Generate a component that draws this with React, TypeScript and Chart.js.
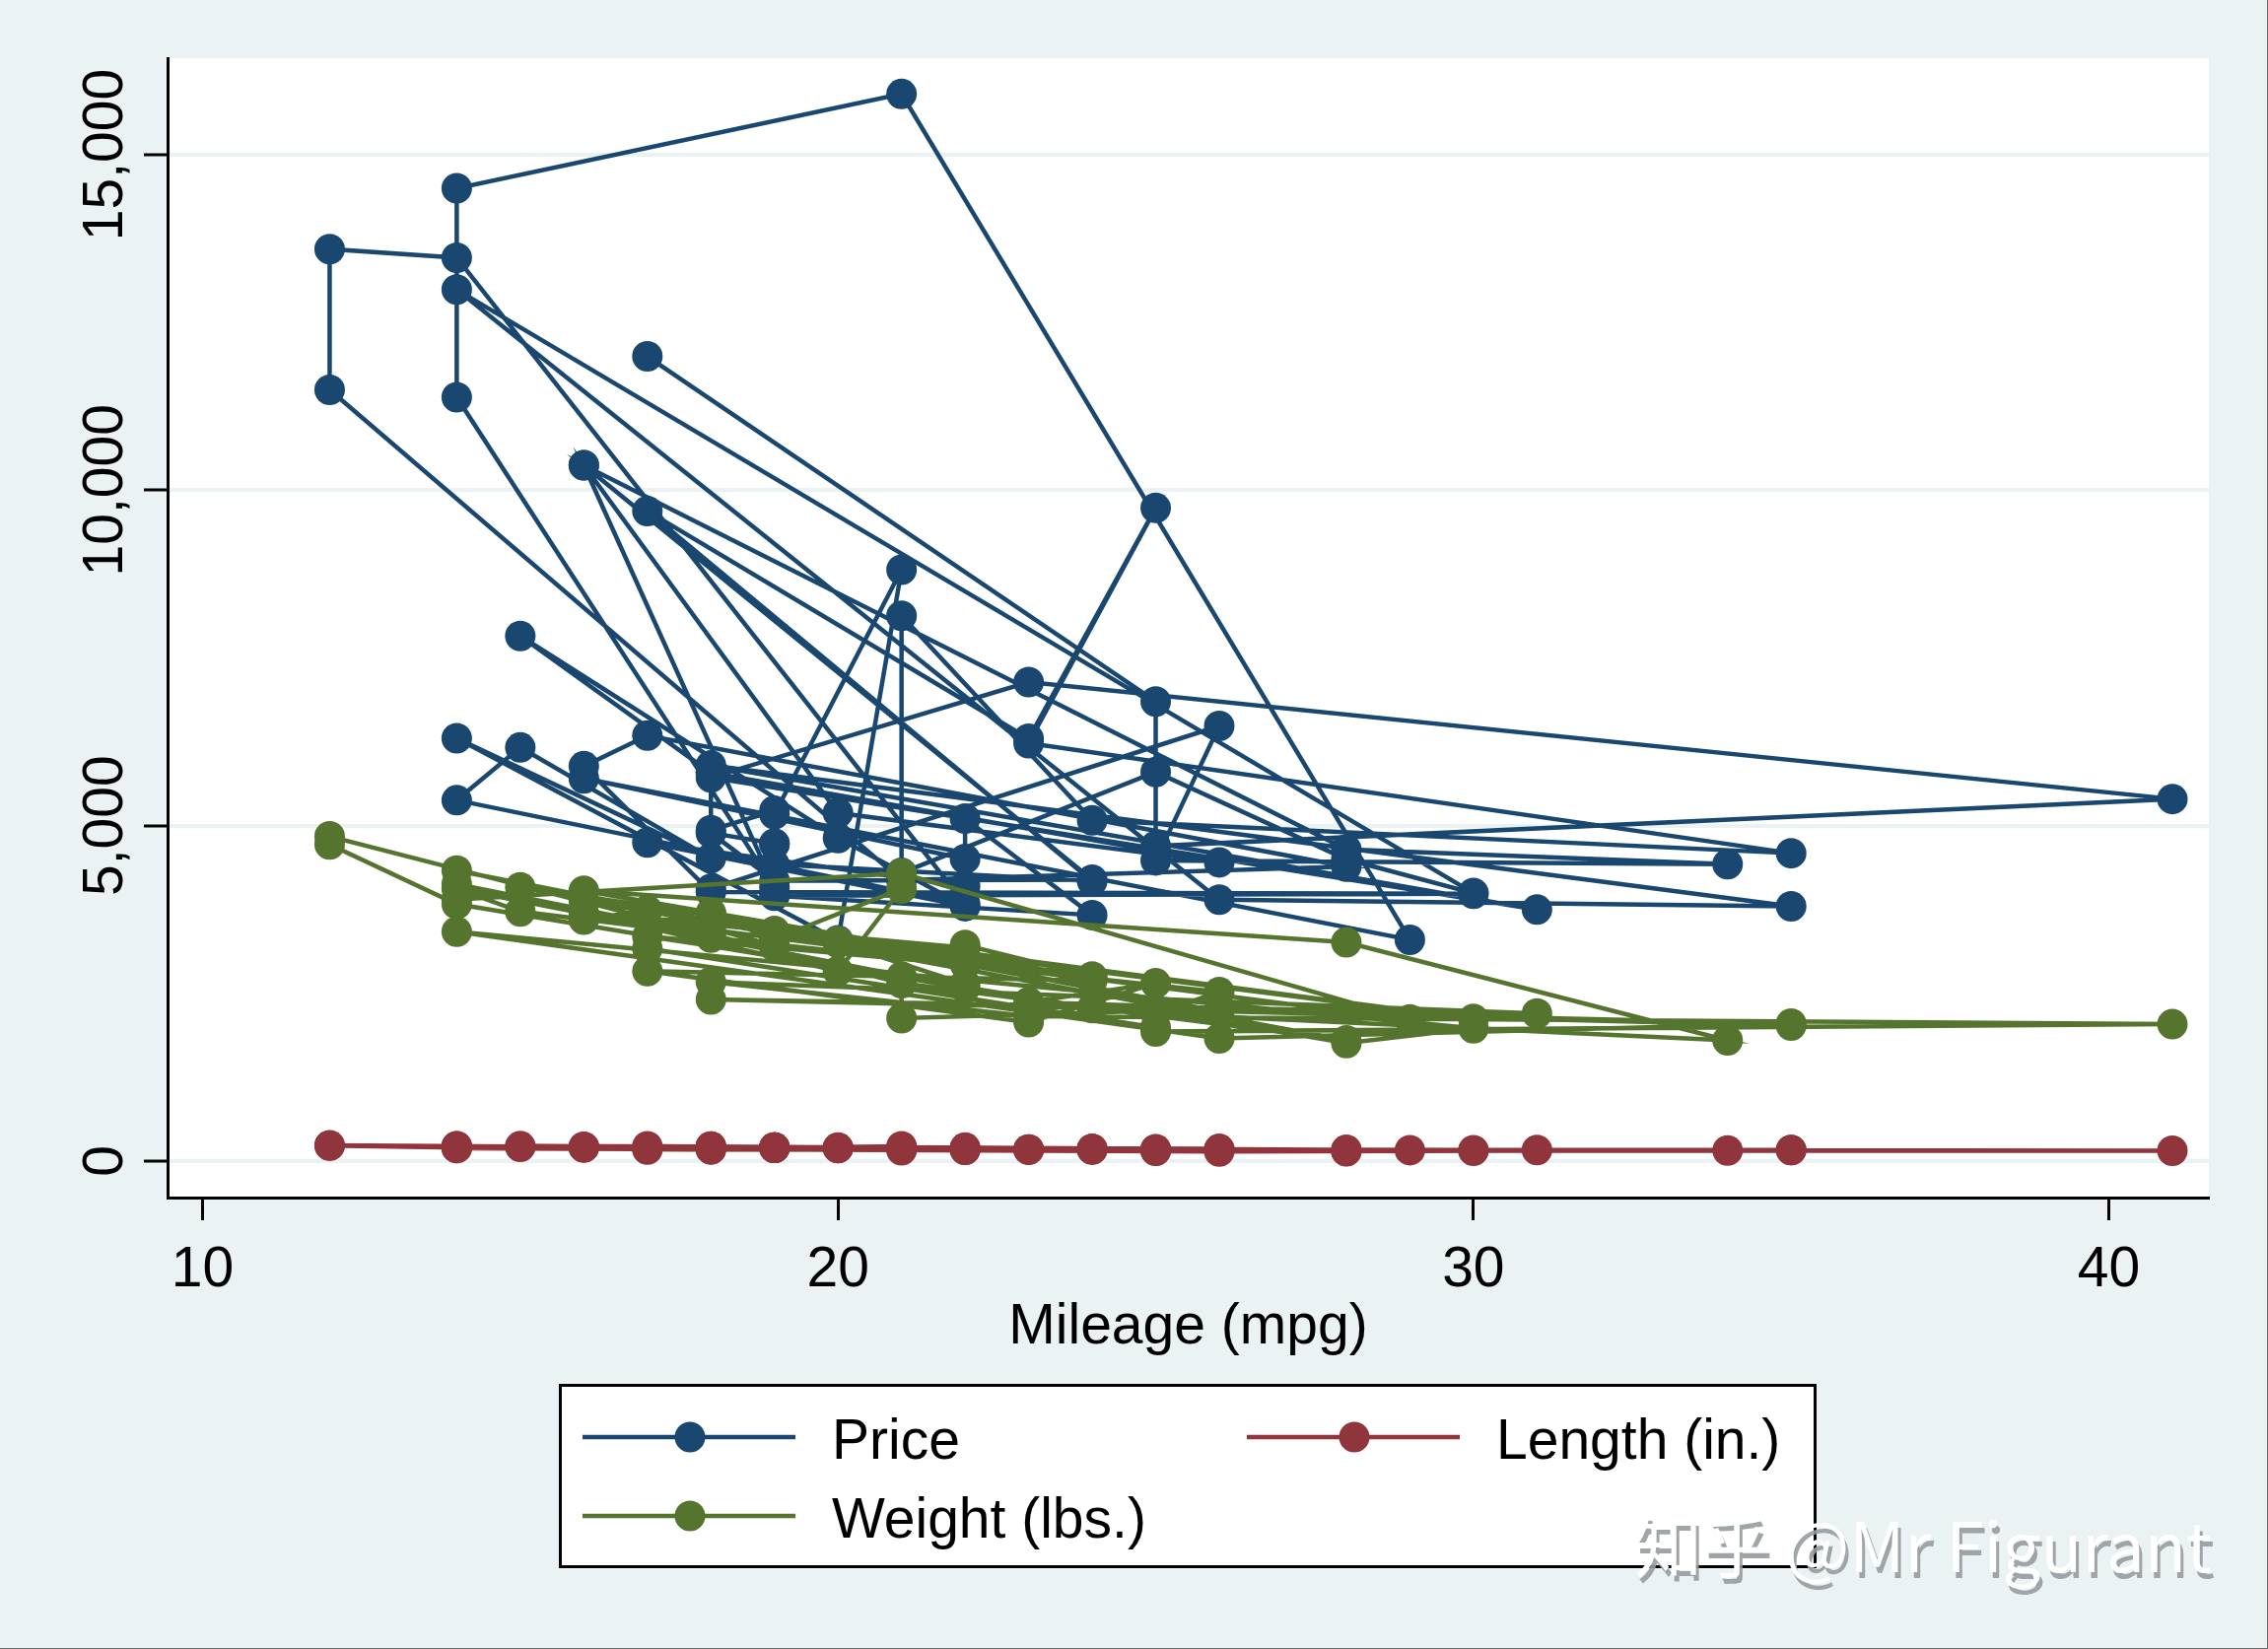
import React, { useEffect, useRef } from "react";
import { Chart, registerables } from "chart.js";

Chart.register(...registerables);

// ---- Data (Stata auto dataset, in data order) ----
const mpg = [
  22, 17, 22, 20, 15, 18, 26, 20, 16, 19,
  14, 14, 21, 29, 16, 22, 22, 24, 19, 30,
  18, 16, 17, 28, 21, 12, 12, 14, 22, 14,
  15, 18, 14, 20, 21, 19, 19, 18, 19, 24,
  16, 28, 34, 25, 26, 18, 18, 18, 19, 19,
  19, 24, 17, 23, 25, 23, 35, 24, 21, 21,
  25, 28, 30, 14, 26, 35, 18, 31, 18, 23,
  41, 25, 25, 17,
];

const price = [
  4099, 4749, 3799, 4816, 7827, 5788, 4453, 5189, 10372, 4082,
  11385, 14500, 15906, 3299, 5705, 4504, 5104, 3667, 3955, 3984,
  4010, 5886, 6342, 4389, 4187, 11497, 13594, 13466, 3829, 5379,
  6165, 4516, 6303, 3291, 8814, 5172, 4733, 4890, 4181, 4195,
  10371, 4647, 4425, 4482, 6486, 4060, 5798, 4934, 5222, 4723,
  4424, 4172, 9690, 6295, 9735, 6229, 4589, 5079, 8129, 4296,
  5799, 4499, 3995, 12990, 3895, 3798, 5899, 3748, 5719, 7140,
  5397, 4697, 6850, 11995,
];

const weight = [
  2930, 3350, 2640, 3250, 4080, 3670, 2230, 3280, 3880, 3400,
  4330, 3900, 4290, 2110, 3690, 3180, 3220, 2750, 3430, 2120,
  3600, 3600, 3740, 1800, 2650, 4840, 4720, 3830, 2580, 4060,
  3720, 3370, 4130, 2830, 4060, 3310, 3300, 3690, 3370, 2730,
  4030, 3260, 1800, 2200, 2520, 3330, 3700, 3470, 3210, 3200,
  3420, 2690, 2830, 2070, 2650, 2370, 2020, 2280, 2750, 2130,
  2240, 1760, 1980, 3420, 1830, 2050, 2410, 2200, 2670, 2160,
  2040, 1930, 1990, 3170,
];

const length = [
  186, 173, 168, 196, 222, 218, 170, 200, 207, 200,
  221, 204, 204, 163, 212, 193, 200, 179, 197, 163,
  206, 206, 220, 147, 179, 233, 230, 201, 169, 221,
  212, 198, 217, 195, 220, 198, 198, 218, 200, 180,
  206, 170, 157, 165, 182, 201, 214, 198, 201, 199,
  203, 179, 189, 174, 177, 170, 165, 170, 184, 161,
  172, 149, 154, 192, 142, 164, 174, 165, 175, 172,
  155, 155, 156, 193,
];

const xTicks = [10, 20, 30, 40];
const yTicks = [0, 5000, 10000, 15000];
const seriesNames = ["Price", "Length (in.)", "Weight (lbs.)"];
const xTitle = "Mileage (mpg)";
const watermark = "知乎 @Mr Figurant";

// ---- Styles ----
const W = 2301;
const H = 1673;
const NAVY = "#1A476F";
const MAROON = "#90353B";
const GREEN = "#55752F";
const BG = "#EAF2F3";
const FONT = '"Liberation Sans", Arial, Helvetica, sans-serif';
const LINE_W = 4.5;
const PT_R = 15.5;

const toPts = (ys: number[]) => mpg.map((x, i) => ({ x, y: ys[i] }));

const stataPlugin = {
  id: "stataDecor",
  beforeDraw(chart: any) {
    const { ctx, chartArea } = chart;
    ctx.save();
    ctx.fillStyle = "#FFFFFF";
    ctx.fillRect(
      chartArea.left,
      chartArea.top,
      chartArea.right - chartArea.left,
      chartArea.bottom - chartArea.top
    );
    ctx.restore();
  },
  afterDraw(chart: any) {
    const { ctx, chartArea } = chart;
    const xs = chart.scales.x;
    const ys = chart.scales.y;
    ctx.save();
    ctx.fillStyle = "#000";
    ctx.font = `57px ${FONT}`;
    ctx.textAlign = "center";
    ctx.textBaseline = "alphabetic";
    // x tick labels
    xTicks.forEach((v) => {
      ctx.fillText(String(v), xs.getPixelForValue(v), chartArea.bottom + 90);
    });
    // x title
    ctx.fillText(xTitle, (chartArea.left + chartArea.right) / 2, chartArea.bottom + 148);
    // y tick labels (rotated)
    yTicks.forEach((v) => {
      const py = ys.getPixelForValue(v);
      ctx.save();
      ctx.translate(chartArea.left - 46, py);
      ctx.rotate(-Math.PI / 2);
      ctx.fillText(v.toLocaleString("en-US"), 0, 0);
      ctx.restore();
    });

    // legend
    const bx = 567, by = 1404, bw = 1276, bh = 187;
    ctx.fillStyle = "#FFFFFF";
    ctx.fillRect(bx, by, bw, bh);
    ctx.lineWidth = 3;
    ctx.strokeStyle = "#000";
    ctx.strokeRect(bx + 1.5, by + 1.5, bw - 3, bh - 3);
    const items = [
      { name: seriesNames[0], color: NAVY, lx: 591, cy: 1458 },
      { name: seriesNames[1], color: MAROON, lx: 1265, cy: 1458 },
      { name: seriesNames[2], color: GREEN, lx: 591, cy: 1538 },
    ];
    items.forEach((it) => {
      ctx.strokeStyle = it.color;
      ctx.lineWidth = LINE_W;
      ctx.beginPath();
      ctx.moveTo(it.lx, it.cy);
      ctx.lineTo(it.lx + 216, it.cy);
      ctx.stroke();
      ctx.fillStyle = it.color;
      ctx.beginPath();
      ctx.arc(it.lx + 109, it.cy, PT_R, 0, Math.PI * 2);
      ctx.fill();
      ctx.fillStyle = "#000";
      ctx.textAlign = "left";
      ctx.font = `57px ${FONT}`;
      ctx.fillText(it.name, it.lx + 253, it.cy + 22);
    });

    // watermark
    const wmFont = '"Noto Sans CJK SC", "Noto Sans", sans-serif';
    ctx.font = `100px ${wmFont}`;
    const w100 = ctx.measureText(watermark).width;
    const fs = (586 / w100) * 100;
    ctx.font = `${fs}px ${wmFont}`;
    ctx.textAlign = "left";
    ctx.fillStyle = "rgba(150,155,158,0.9)";
    ctx.fillText(watermark, 1661, 1601);
    ctx.fillStyle = "#FFFFFF";
    ctx.fillText(watermark, 1658, 1595);
    ctx.restore();
  },
};

export default function App() {
  const ref = useRef<HTMLCanvasElement | null>(null);

  useEffect(() => {
    if (!ref.current) return;
    const mk = (label: string, data: number[], color: string, order: number) => ({
      label,
      data: toPts(data),
      showLine: true,
      borderColor: color,
      backgroundColor: color,
      borderWidth: LINE_W,
      pointRadius: PT_R,
      pointHoverRadius: PT_R,
      pointBorderWidth: 0,
      pointBackgroundColor: color,
      tension: 0,
      order,
    });
    const chart = new Chart(ref.current, {
      type: "scatter",
      data: {
        datasets: [
          mk(seriesNames[0], price, NAVY, 3),
          mk(seriesNames[1], length, MAROON, 2),
          mk(seriesNames[2], weight, GREEN, 1),
        ],
      },
      options: {
        animation: false,
        responsive: true,
        maintainAspectRatio: false,
        events: [],
        layout: { padding: { top: 59, right: 60, left: 0, bottom: 0 } },
        plugins: {
          legend: { display: false },
          tooltip: { enabled: false },
        },
        scales: {
          x: {
            type: "linear",
            min: 9.449,
            max: 41.574,
            afterBuildTicks: (s: any) => {
              s.ticks = xTicks.map((v) => ({ value: v }));
            },
            afterFit: (s: any) => {
              s.height = 458;
            },
            ticks: { display: false },
            grid: {
              drawOnChartArea: false,
              drawTicks: true,
              tickLength: 23,
              tickWidth: 3,
              tickColor: "#000",
              color: "#000",
            },
            border: { display: true, color: "#000", width: 3 },
          },
          y: {
            type: "linear",
            min: -544,
            max: 16440,
            afterBuildTicks: (s: any) => {
              s.ticks = yTicks.map((v) => ({ value: v }));
            },
            afterFit: (s: any) => {
              s.width = 170;
            },
            ticks: { display: false },
            grid: {
              drawOnChartArea: true,
              color: BG,
              lineWidth: 4,
              drawTicks: true,
              tickLength: 24,
              tickWidth: 3,
              tickColor: "#000",
            },
            border: { display: true, color: "#000", width: 3 },
          },
        },
      },
      plugins: [stataPlugin],
    } as any);
    return () => chart.destroy();
  }, []);

  return (
    <div
      style={{
        position: "absolute",
        left: 0,
        top: 0,
        width: W,
        height: H,
        background: BG,
        overflow: "hidden",
      }}
    >
      <div style={{ position: "absolute", left: 0, top: 0, width: W, height: H }}>
        <canvas ref={ref} />
      </div>
      <div
        style={{
          position: "absolute",
          left: W - 1,
          top: 0,
          width: 1,
          height: H,
          background: "#6b6b6b",
        }}
      />
      <div
        style={{
          position: "absolute",
          left: 0,
          top: H - 1,
          width: W,
          height: 1,
          background: "#6b6b6b",
        }}
      />
    </div>
  );
}
